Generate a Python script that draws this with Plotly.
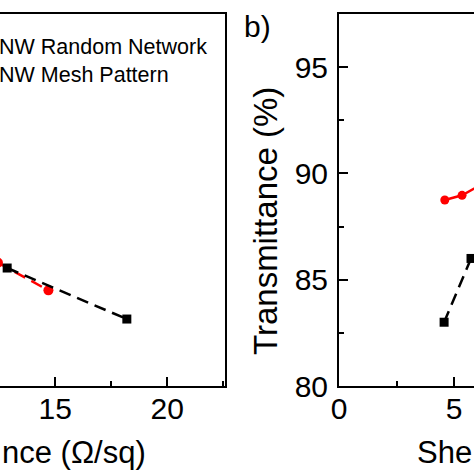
import plotly.graph_objects as go

# ---- data ----
left_black_x = [12.86, 18.2]
left_black_y = [85.55, 83.15]
left_red_x = [12.45, 14.7]
left_red_y = [85.8, 84.5]

right_black_x = [4.57, 5.74]
right_black_y = [83.0, 86.0]
right_red_x = [4.6, 5.35, 6.3]
right_red_y = [88.75, 88.97, 89.55]

legend_labels = ["NW Random Network", "NW Mesh Pattern"]
x_title_left_visible = "nce (\u03a9/sq)"   # visible part of "Sheet Resistance (Ω/sq)"
x_title_right_visible = "She"             # visible part of "Sheet Resistance (Ω/sq)"
y_title = "Transmittance (%)"

W = H = 474
FONT = "Liberation Sans, Arial, sans-serif"
BLACK = "#000000"
RED = "#ff0000"


def px(x):
    return x / W


def py(y):
    return 1 - y / H


ydom = [py(386), py(14)]

fig = go.Figure()

# left panel
fig.add_trace(go.Scatter(x=left_red_x, y=left_red_y, mode="lines+markers",
                         line=dict(color=RED, width=2.5, dash="12px,7px"),
                         marker=dict(symbol="circle", size=10, color=RED),
                         xaxis="x", yaxis="y", showlegend=False))
fig.add_trace(go.Scatter(x=left_black_x, y=left_black_y, mode="lines+markers",
                         line=dict(color=BLACK, width=2.5, dash="12px,7px"),
                         marker=dict(symbol="square", size=9, color=BLACK),
                         xaxis="x", yaxis="y", showlegend=False))
# right panel
fig.add_trace(go.Scatter(x=right_red_x, y=right_red_y, mode="lines+markers",
                         line=dict(color=RED, width=2.5),
                         marker=dict(symbol="circle", size=9, color=RED),
                         xaxis="x2", yaxis="y2", showlegend=False))
fig.add_trace(go.Scatter(x=right_black_x, y=right_black_y, mode="lines+markers",
                         line=dict(color=BLACK, width=2.5, dash="12px,7px"),
                         marker=dict(symbol="square", size=9, color=BLACK),
                         xaxis="x2", yaxis="y2", showlegend=False))

tickfont = dict(family=FONT, size=30, color=BLACK)
minor_common = dict(ticks="inside", ticklen=5, tickwidth=2, tickcolor=BLACK, showgrid=False)

fig.update_layout(
    width=W, height=H,
    margin=dict(l=0, r=0, t=0, b=0, pad=0, autoexpand=False),
    paper_bgcolor="white", plot_bgcolor="white",
    font=dict(family=FONT, color=BLACK),
    xaxis=dict(domain=[0, px(225)], range=[12.54, 22.58], anchor="y", automargin=False,
               showline=True, linecolor=BLACK, linewidth=2, mirror=True,
               ticks="inside", ticklen=9, tickwidth=2, tickcolor=BLACK,
               tickmode="linear", tick0=0, dtick=5, showgrid=False, zeroline=False,
               tickfont=tickfont, ticklabelstandoff=-5,
               minor=dict(tickmode="linear", tick0=0, dtick=2.5, **minor_common)),
    yaxis=dict(domain=ydom, range=[80, 97.5], anchor="x", side="right", automargin=False,
               showline=True, linecolor=BLACK, linewidth=2, mirror=False,
               ticks="", showticklabels=False, showgrid=False, zeroline=False),
    xaxis2=dict(domain=[px(339), 1], range=[0, 5.87], anchor="y2", automargin=False,
                showline=True, linecolor=BLACK, linewidth=2, mirror=True,
                ticks="inside", ticklen=9, tickwidth=2, tickcolor=BLACK,
                tickmode="linear", tick0=0, dtick=5, showgrid=False, zeroline=False,
                tickfont=tickfont, ticklabelstandoff=-5,
                minor=dict(tickmode="linear", tick0=0, dtick=2.5, **minor_common)),
    yaxis2=dict(domain=ydom, range=[80, 97.5], anchor="x2", automargin=False,
                showline=True, linecolor=BLACK, linewidth=2, mirror=False,
                ticks="inside", ticklen=9, tickwidth=2, tickcolor=BLACK,
                tickmode="linear", tick0=80, dtick=5, showgrid=False, zeroline=False,
                tickfont=tickfont, ticklabelstandoff=3,
                minor=dict(tickmode="linear", tick0=80, dtick=2.5, **minor_common)),
)

ann = []
# legend texts (symbols cropped away in the reference)
ann.append(dict(x=px(-3), y=py(47), xref="paper", yref="paper", text=legend_labels[0],
                xanchor="left", yanchor="middle", showarrow=False,
                font=dict(family=FONT, size=21.5, color=BLACK)))
ann.append(dict(x=px(-3), y=py(75), xref="paper", yref="paper", text=legend_labels[1],
                xanchor="left", yanchor="middle", showarrow=False,
                font=dict(family=FONT, size=21.5, color=BLACK)))
# x titles (visible parts)
ann.append(dict(x=px(148), y=py(452), xref="paper", yref="paper", text=x_title_left_visible,
                xanchor="right", yanchor="middle", showarrow=False,
                font=dict(family=FONT, size=31, color=BLACK)))
ann.append(dict(x=px(415), y=py(452), xref="paper", yref="paper", text=x_title_right_visible,
                xanchor="left", yanchor="middle", showarrow=False,
                font=dict(family=FONT, size=31, color=BLACK)))
# y title right panel
ann.append(dict(x=px(266), y=py(221), xref="paper", yref="paper", text=y_title,
                textangle=-90, xanchor="center", yanchor="middle", showarrow=False,
                font=dict(family=FONT, size=33, color=BLACK)))
# panel label
ann.append(dict(x=px(242), y=py(26), xref="paper", yref="paper", text="b)",
                xanchor="left", yanchor="middle", showarrow=False,
                font=dict(family=FONT, size=30, color=BLACK)))
fig.update_layout(annotations=ann)

fig.write_html("out.html")
